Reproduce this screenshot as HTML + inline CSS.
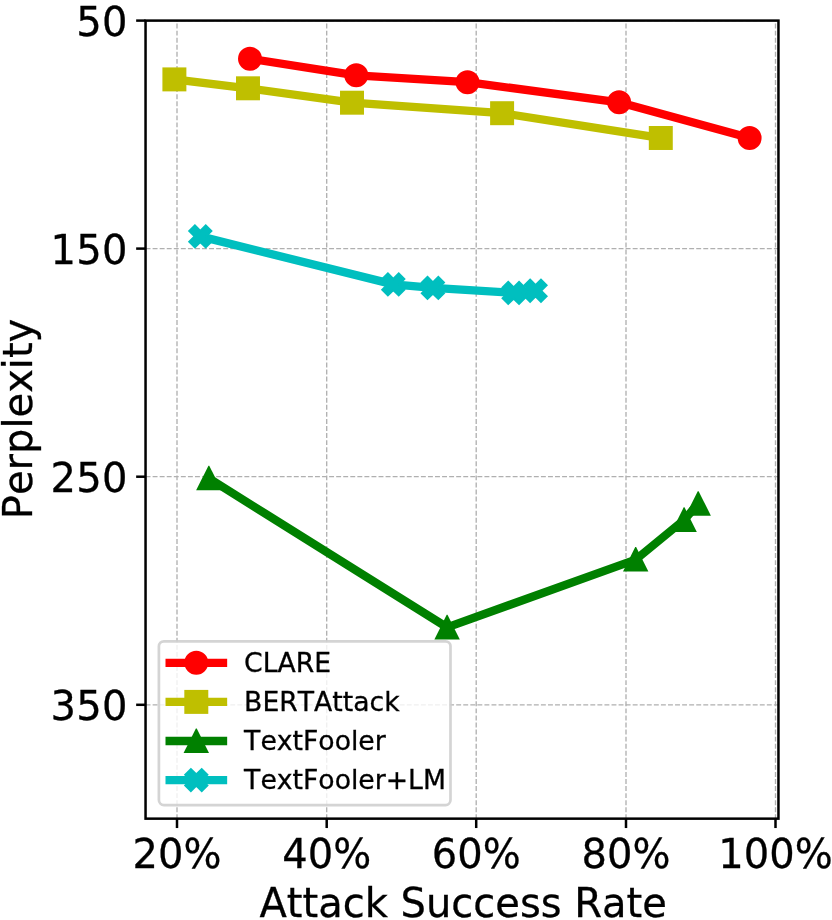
<!DOCTYPE html>
<html lang="en"><head><meta charset="utf-8"><title>Perplexity vs Attack Success Rate</title>
<style>
html,body{margin:0;padding:0;background:#fff;}
body{width:832px;height:920px;overflow:hidden;}
svg{display:block;}
text{font-family:"DejaVu Sans","Liberation Sans",sans-serif;fill:#000;stroke:#000;stroke-width:0.3px;font-kerning:none;font-variant-ligatures:none;}
.tk{font-size:40px;}
.lg{font-size:26.67px;}
</style></head><body>
<svg width="832" height="920" viewBox="0 0 832 920">
<rect width="832" height="920" fill="#fff"/>
<g stroke="#b0b0b0" stroke-width="1.333" stroke-dasharray="4.93 2.13" fill="none">
<path d="M177 818.65L177 20.6" stroke-dashoffset="0.6"/>
<path d="M326.7 818.65L326.7 20.6" stroke-dashoffset="0.6"/>
<path d="M476.2 818.65L476.2 20.6" stroke-dashoffset="0.6"/>
<path d="M626 818.65L626 20.6" stroke-dashoffset="0.6"/>
<path d="M775.5 818.65L775.5 20.6" stroke-dashoffset="0.6"/>
<path d="M145.55 20.6L778.45 20.6"/>
<path d="M145.55 248.6L778.45 248.6"/>
<path d="M145.55 476.7L778.45 476.7"/>
<path d="M145.55 704.8L778.45 704.8"/>
</g>
<g stroke="#000" stroke-width="2.5" fill="none">
<path d="M177 818.65L177 828.05"/>
<path d="M326.7 818.65L326.7 828.05"/>
<path d="M476.2 818.65L476.2 828.05"/>
<path d="M626 818.65L626 828.05"/>
<path d="M775.5 818.65L775.5 828.05"/>
<path d="M145.55 20.6L136.15 20.6"/>
<path d="M145.55 248.6L136.15 248.6"/>
<path d="M145.55 476.7L136.15 476.7"/>
<path d="M145.55 704.8L136.15 704.8"/>
</g>
<g>
<path d="M250 58.75L356.25 75.3L467.5 82.2L619.1 102.3L749.6 137.9" fill="none" stroke="#ff0000" stroke-width="8.33" stroke-linecap="square" stroke-linejoin="round"/>
<circle cx="250" cy="58.75" r="10.84" fill="#ff0000" stroke="#ff0000" stroke-width="2.3"/>
<circle cx="356.25" cy="75.3" r="10.84" fill="#ff0000" stroke="#ff0000" stroke-width="2.3"/>
<circle cx="467.5" cy="82.2" r="10.84" fill="#ff0000" stroke="#ff0000" stroke-width="2.3"/>
<circle cx="619.1" cy="102.3" r="10.84" fill="#ff0000" stroke="#ff0000" stroke-width="2.3"/>
<circle cx="749.6" cy="137.9" r="10.84" fill="#ff0000" stroke="#ff0000" stroke-width="2.3"/>
</g>
<g>
<path d="M174.4 79.4L248 88.3L352 102.7L502.1 113.2L660.8 138" fill="none" stroke="#bfbf00" stroke-width="8.33" stroke-linecap="square" stroke-linejoin="round"/>
<rect x="163.56" y="68.56" width="21.67" height="21.67" fill="#bfbf00" stroke="#bfbf00" stroke-width="2.3"/>
<rect x="237.16" y="77.47" width="21.67" height="21.67" fill="#bfbf00" stroke="#bfbf00" stroke-width="2.3"/>
<rect x="341.17" y="91.87" width="21.67" height="21.67" fill="#bfbf00" stroke="#bfbf00" stroke-width="2.3"/>
<rect x="491.27" y="102.37" width="21.67" height="21.67" fill="#bfbf00" stroke="#bfbf00" stroke-width="2.3"/>
<rect x="649.96" y="127.16" width="21.67" height="21.67" fill="#bfbf00" stroke="#bfbf00" stroke-width="2.3"/>
</g>
<g>
<path d="M208.85 478.3L447.1 627.4L635.7 559.6L684.1 519.9L698.2 503.7" fill="none" stroke="#008000" stroke-width="8.33" stroke-linecap="square" stroke-linejoin="round"/>
<path d="M208.42 465.75L209.28 465.75L221.55 490.28L196.15 490.28Z" fill="#008000"/>
<path d="M446.67 614.85L447.53 614.85L459.8 639.38L434.4 639.38Z" fill="#008000"/>
<path d="M635.27 547.05L636.13 547.05L648.4 571.59L623 571.59Z" fill="#008000"/>
<path d="M683.67 507.35L684.53 507.35L696.8 531.88L671.4 531.88Z" fill="#008000"/>
<path d="M697.77 491.15L698.63 491.15L710.9 515.68L685.5 515.68Z" fill="#008000"/>
</g>
<g>
<path d="M200.3 236.4L393.3 284.4L432.9 287.9L513.64 292.9L535.55 290.73" fill="none" stroke="#00bfbf" stroke-width="8.33" stroke-linecap="square" stroke-linejoin="round"/>
<path d="M194.88 225.56L200.3 230.98L205.72 225.56L211.14 230.98L205.72 236.4L211.14 241.82L205.72 247.24L200.3 241.82L194.88 247.24L189.47 241.82L194.88 236.4L189.47 230.98Z" fill="#00bfbf" stroke="#00bfbf" stroke-width="2.3" stroke-miterlimit="10"/>
<path d="M387.88 273.56L393.3 278.98L398.72 273.56L404.13 278.98L398.72 284.4L404.13 289.82L398.72 295.23L393.3 289.82L387.88 295.23L382.47 289.82L387.88 284.4L382.47 278.98Z" fill="#00bfbf" stroke="#00bfbf" stroke-width="2.3" stroke-miterlimit="10"/>
<path d="M427.48 277.06L432.9 282.48L438.32 277.06L443.73 282.48L438.32 287.9L443.73 293.32L438.32 298.73L432.9 293.32L427.48 298.73L422.06 293.32L427.48 287.9L422.06 282.48Z" fill="#00bfbf" stroke="#00bfbf" stroke-width="2.3" stroke-miterlimit="10"/>
<path d="M508.22 282.06L513.64 287.48L519.06 282.06L524.48 287.48L519.06 292.9L524.48 298.32L519.06 303.73L513.64 298.32L508.22 303.73L502.81 298.32L508.22 292.9L502.81 287.48Z" fill="#00bfbf" stroke="#00bfbf" stroke-width="2.3" stroke-miterlimit="10"/>
<path d="M530.13 279.9L535.55 285.31L540.97 279.9L546.38 285.31L540.97 290.73L546.38 296.15L540.97 301.56L535.55 296.15L530.13 301.56L524.71 296.15L530.13 290.73L524.71 285.31Z" fill="#00bfbf" stroke="#00bfbf" stroke-width="2.3" stroke-miterlimit="10"/>
</g>
<rect x="145.55" y="20.6" width="632.9" height="798.05" fill="none" stroke="#000" stroke-width="2.5"/>
<text class="tk" x="177" y="867.9" text-anchor="middle">20%</text>
<text class="tk" x="326.7" y="867.9" text-anchor="middle">40%</text>
<text class="tk" x="476.2" y="867.9" text-anchor="middle">60%</text>
<text class="tk" x="626" y="867.9" text-anchor="middle">80%</text>
<text class="tk" x="775.5" y="867.9" text-anchor="middle">100%</text>
<text class="tk" x="127.7" y="36.1" text-anchor="end" letter-spacing="0.3">50</text>
<text class="tk" x="127.7" y="264.1" text-anchor="end" letter-spacing="0.3">150</text>
<text class="tk" x="127.7" y="492.2" text-anchor="end" letter-spacing="0.3">250</text>
<text class="tk" x="127.7" y="720.3" text-anchor="end" letter-spacing="0.3">350</text>
<text class="tk" x="259.45" y="917.1" letter-spacing="0">Attack Success Rate</text>
<text class="tk" transform="translate(31.9 519.15) rotate(-90)" letter-spacing="0">Perplexity</text>
<rect x="158.9" y="641.3" width="291.6" height="163.8" rx="5" ry="5" fill="#fff" fill-opacity="0.8" stroke="#ccc" stroke-opacity="0.85" stroke-width="2.7"/>
<path d="M169.67 662.8L223 662.8" stroke="#ff0000" stroke-width="8.33" stroke-linecap="square" fill="none"/>
<circle cx="196.3" cy="662.8" r="10.84" fill="#ff0000" stroke="#ff0000" stroke-width="2.3"/>
<text class="lg" x="244.1" y="672.1">CLARE</text>
<path d="M169.67 701.9L223 701.9" stroke="#bfbf00" stroke-width="8.33" stroke-linecap="square" fill="none"/>
<rect x="185.47" y="691.06" width="21.67" height="21.67" fill="#bfbf00" stroke="#bfbf00" stroke-width="2.3"/>
<text class="lg" x="244.1" y="711.2">BERTAttack</text>
<path d="M169.67 741L223 741" stroke="#008000" stroke-width="8.33" stroke-linecap="square" fill="none"/>
<path d="M195.87 728.45L196.73 728.45L209 752.99L183.6 752.99Z" fill="#008000"/>
<text class="lg" x="244.1" y="750.3">TextFooler</text>
<path d="M169.67 780.1L223 780.1" stroke="#00bfbf" stroke-width="8.33" stroke-linecap="square" fill="none"/>
<path d="M190.88 769.26L196.3 774.68L201.72 769.26L207.14 774.68L201.72 780.1L207.14 785.52L201.72 790.94L196.3 785.52L190.88 790.94L185.47 785.52L190.88 780.1L185.47 774.68Z" fill="#00bfbf" stroke="#00bfbf" stroke-width="2.3" stroke-miterlimit="10"/>
<text class="lg" x="244.1" y="789.4">TextFooler+LM</text>
</svg>
</body></html>
